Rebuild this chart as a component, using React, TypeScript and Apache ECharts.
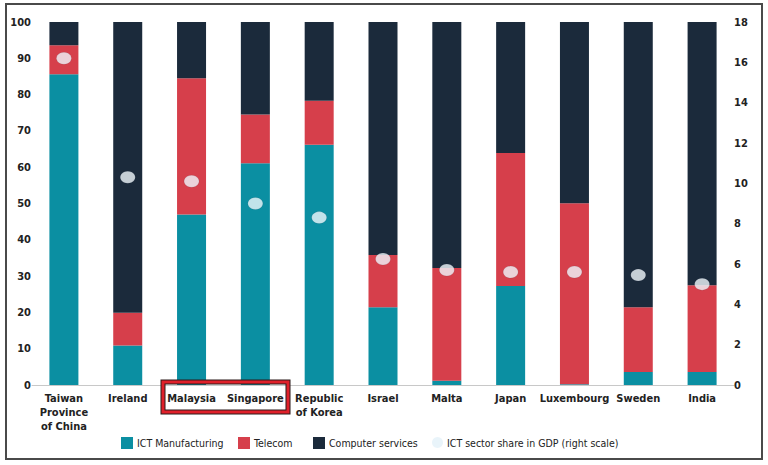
import React, { useEffect, useRef } from "react";
import * as echarts from "echarts";

const categories = [
  "Taiwan\nProvince\nof China",
  "Ireland",
  "Malaysia",
  "Singapore",
  "Republic\nof Korea",
  "Israel",
  "Malta",
  "Japan",
  "Luxembourg",
  "Sweden",
  "India",
];
const ictManufacturing = [85.6, 10.9, 47.0, 61.1, 66.2, 21.4, 1.2, 27.3, 0.2, 3.6, 3.6];
const telecom = [8.0, 9.0, 37.5, 13.4, 12.1, 14.4, 31.0, 36.6, 49.9, 17.8, 23.9];
const computerServices = [6.4, 80.1, 15.5, 25.5, 21.7, 64.2, 67.8, 36.1, 49.9, 78.6, 72.5];
const gdpShare = [16.2, 10.3, 10.1, 9.0, 8.3, 6.25, 5.7, 5.6, 5.6, 5.45, 5.0];
const seriesNames = [
  "ICT Manufacturing",
  "Telecom",
  "Computer services",
  "ICT sector share in GDP (right scale)",
];

const FONT = "'DejaVu Sans Condensed', 'Liberation Sans Narrow', 'Liberation Sans', Arial, sans-serif";
const TEAL = "#0b8fa2";
const RED = "#d63f4b";
const NAVY = "#1b2a3b";
const DOT = "#f0f8fd";

export default function App() {
  const ref = useRef<HTMLDivElement>(null);
  useEffect(() => {
    if (!ref.current) return;
    const chart = echarts.init(ref.current, null, { renderer: "svg" });
    const axisLabel = { fontFamily: FONT, fontSize: 11, fontWeight: "bold" as const, color: "#222" };
    const legendLefts = [121, 238, 313, 432];
    const legendText = { fontFamily: FONT, fontSize: 10.5, color: "#222", padding: [0, 0, 0, -1] };
    chart.setOption({
      animation: false,
      backgroundColor: "#ffffff",
      grid: { left: 32, right: 34, top: 22, bottom: 80 },
      legend: seriesNames.map((name, i) => ({
        left: legendLefts[i],
        top: 437,
        padding: 0,
        itemWidth: i === 3 ? 11 : 12,
        itemHeight: i === 3 ? 11 : 12,
        textStyle: legendText,
        data: [
          i === 3
            ? { name, icon: "circle", itemStyle: { color: "#e4f1f9", borderWidth: 0 } }
            : { name, icon: "rect" },
        ],
      })),
      xAxis: {
        type: "category",
        data: categories,
        axisTick: { show: false },
        axisLine: { show: true, lineStyle: { color: "#c8c8c8", width: 1 } },
        axisLabel: { ...axisLabel, margin: 6, lineHeight: 14, interval: 0 },
      },
      yAxis: [
        {
          type: "value",
          min: 0,
          max: 100,
          interval: 10,
          splitLine: { show: false },
          axisLine: { show: false },
          axisTick: { show: false },
          axisLabel: { ...axisLabel, margin: 1 },
        },
        {
          type: "value",
          min: 0,
          max: 18,
          interval: 2,
          position: "right",
          splitLine: { show: false },
          axisLine: { show: false },
          axisTick: { show: false },
          axisLabel: { ...axisLabel, margin: 0 },
        },
      ],
      series: [
        {
          name: seriesNames[0],
          type: "bar",
          stack: "total",
          barWidth: 29,
          data: ictManufacturing,
          itemStyle: { color: TEAL },
        },
        {
          name: seriesNames[1],
          type: "bar",
          stack: "total",
          barWidth: 29,
          data: telecom,
          itemStyle: { color: RED },
        },
        {
          name: seriesNames[2],
          type: "bar",
          stack: "total",
          barWidth: 29,
          data: computerServices,
          itemStyle: { color: NAVY },
        },
        {
          name: seriesNames[3],
          type: "scatter",
          yAxisIndex: 1,
          symbol: "circle",
          symbolSize: [15, 12],
          data: gdpShare,
          z: 5,
          itemStyle: {
            color: DOT,
            borderColor: "rgba(20,30,50,0.25)",
            borderWidth: 0.5,
          },
        },
      ],
      graphic: [
        {
          type: "rect",
          shape: { x: 6, y: 4, width: 756, height: 455 },
          style: { fill: "none", stroke: "#4a4a4a", lineWidth: 2 },
          z: 10,
        },
        {
          type: "rect",
          shape: { x: 163, y: 382, width: 125, height: 30 },
          style: { fill: "none", stroke: "#2a1a1a", lineWidth: 5 },
          z: 10,
        },
        {
          type: "rect",
          shape: { x: 163, y: 382, width: 125, height: 30 },
          style: { fill: "none", stroke: "#e0202a", lineWidth: 3 },
          z: 11,
        },
      ],
    });
    return () => chart.dispose();
  }, []);
  return (
    <div
      ref={ref}
      style={{ position: "fixed", left: 0, top: 0, width: 768, height: 465, background: "#fff" }}
    />
  );
}
